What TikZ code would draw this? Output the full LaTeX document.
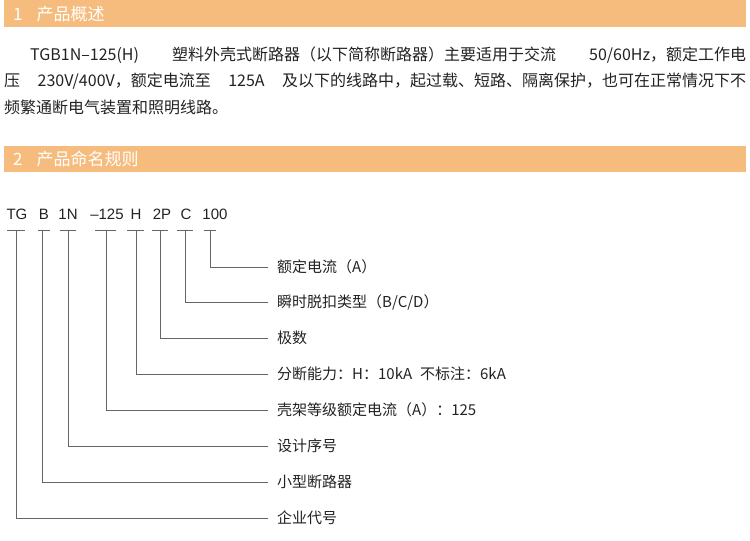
\documentclass[tikz,border=0pt]{standalone}
\usepackage{fontspec}
\setmainfont{Liberation Sans}
\newfontfamily\cjk{Noto Sans CJK SC}
\XeTeXlinebreaklocale "zh"
\XeTeXlinebreakskip=0pt plus 2pt
\definecolor{bar}{HTML}{F6BC7E}
\definecolor{ln}{HTML}{666666}
\definecolor{tx}{HTML}{222222}
\begin{document}
\begin{tikzpicture}[x=1pt,y=-1pt,
  hdr/.style={anchor=west,text=white,font=\cjk\fontsize{17}{17}\selectfont,inner sep=0},
  body/.style={anchor=west,text=tx,font=\cjk\fontsize{16}{16}\selectfont,inner sep=0},
  code/.style={anchor=base,text=tx,font=\fontsize{15}{15}\selectfont,inner sep=0},
  lab/.style={anchor=west,text=tx,font=\cjk\fontsize{15}{15}\selectfont,inner sep=0},
  wire/.style={draw=ln,line width=0.8pt}]
\useasboundingbox (0,0) rectangle (750,541);
\fill[bar] (4,0) rectangle (746,27);
\fill[bar] (4,146) rectangle (746,172);
\node[hdr] (h1) at (13,14) {1\hspace{14pt}产品概述};
\node[hdr] (h2) at (13,159) {2\hspace{14pt}产品命名规则};
\node[body] (l1) at (30,55) {\hbox to 716pt{TGB1N–125(H) 塑料外壳式断路器（以下简称断路器）主要适用于交流 50/60Hz，额定工作电}};
\node[body] (l2) at (4,81) {\hbox to 742pt{压 230V/400V，额定电流至 125A 及以下的线路中，起过载、短路、隔离保护，也可在正常情况下不}};
\node[body] (l3) at (4,107) {频繁通断电气装置和照明线路。};
% code letters
\foreach \t/\x [count=\i] in {TG/17,B/44,1N/68,{–125}/107,H/136,2P/162,C/186,100/215}{
  \node[code] (c\i) at (\x,219) {\t};
}
% ticks
\foreach \a/\b in {7/25,38/50,60/76,95/116,127/144,152/168,177/193,204/216}{
  \draw[wire] (\a,230) -- (\b,230);
}
% labels
\node[lab] (r8) at (277,267) {额定电流（A）};
\node[lab] (r7) at (277,302) {瞬时脱扣类型（B/C/D）};
\node[lab] (r6) at (277,338) {极数};
\node[lab] (r5) at (277,374) {分断能力：H：10kA\hspace{8pt}不标注：6kA};
\node[lab] (r4) at (277,410) {壳架等级额定电流（A）：125};
\node[lab] (r3) at (277,446) {设计序号};
\node[lab] (r2) at (277,482) {小型断路器};
\node[lab] (r1) at (277,518) {企业代号};
\foreach \i/\x in {1/16,2/42,3/68,4/106,5/136,6/160,7/185,8/210}{
  \coordinate (t\i) at (\x,231);
  \draw[wire] (t\i) |- ([xshift=-9pt]r\i.west);
}
\end{tikzpicture}
\end{document}
